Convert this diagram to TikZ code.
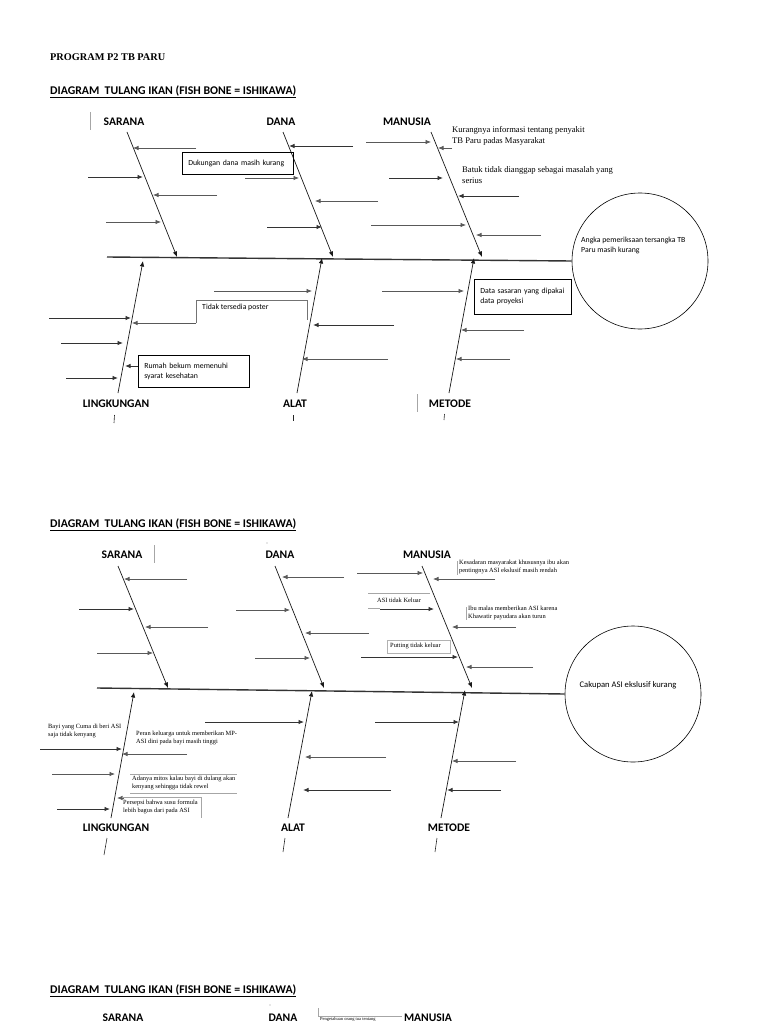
\documentclass[tikz,border=0pt]{standalone}
\usepackage{fontspec}
\setmainfont{Liberation Serif}
\newfontfamily\carl{Carlito}
\usetikzlibrary{arrows.meta}
\newcommand\fbar[5][arr]{\coordinate (#2a) at (#3,#4); \coordinate (#2b) at (#5,#4); \draw[#1] (#2a) -- (#2b);}
\tikzset{
 bone/.style={line width=0.7pt, black!90, -{Latex[length=5.5pt,width=4.5pt]}},
 plain/.style={line width=0.6pt, black!85},
 spine/.style={line width=1.4pt, black!80},
 arr/.style={line width=0.7pt, black!65, -{Latex[length=5.5pt,width=4.5pt]}},
 arrk/.style={line width=0.9pt, black!80, -{Latex[length=5.5pt,width=4.5pt]}},
 cat/.style={font=\carl\bfseries\fontsize{11.6}{12}\selectfont, inner sep=0pt},
 ttl/.style={font=\carl\bfseries\fontsize{11.8}{12}\selectfont, inner sep=0pt, anchor=west},
 box/.style={draw, line width=0.6pt, inner xsep=6pt, align=left, anchor=north west, font=\carl\fontsize{7.8}{10}\selectfont},
 btxt/.style={font=\carl\fontsize{7.8}{10}\selectfont, align=left, inner sep=0pt, anchor=north west},
 stxt/.style={font=\fontsize{8.6}{11}\selectfont, align=left, inner sep=0pt, anchor=north west},
 ttxt/.style={font=\fontsize{6.4}{7.5}\selectfont, align=left, inner sep=0pt, anchor=north west},
 grey/.style={line width=0.5pt, black!35},
 effect/.style={draw, circle, line width=0.6pt, inner sep=0pt, minimum size=136pt},
}
\begin{document}
\begin{tikzpicture}[x=1pt,y=-1pt]
\useasboundingbox (0,0) rectangle (768,1024);
\clip (0,0) rectangle (768,1024);
% ================= Diagram 1 =================
\node[anchor=west, font=\bfseries\fontsize{10.3}{12}\selectfont, inner sep=0pt] (prog) at (50,57) {PROGRAM P2 TB PARU};
\node[ttl] (t1) at (50,92) {\underline{DIAGRAM\ \ TULANG IKAN (FISH BONE = ISHIKAWA)}};
\node[cat] (sar1) at (124,122) {SARANA};
\node[cat] (dan1) at (281,122) {DANA};
\node[cat] (man1) at (407,122) {MANUSIA};
\node[cat] (lin1) at (116,404) {LINGKUNGAN};
\node[cat] (ala1) at (295,404) {ALAT};
\node[cat] (met1) at (450,404) {METODE};
\coordinate (g1a) at (90,112); \coordinate (g1b) at (90,130); \draw[grey] (g1a) -- (g1b);
\coordinate (g2a) at (417,394); \coordinate (g2b) at (417,412); \draw[grey] (g2a) -- (g2b);
\coordinate (k1a) at (114.5,415); \coordinate (k1b) at (114,423); \draw[plain] (k1a) -- (k1b);
\coordinate (k2a) at (293,415); \coordinate (k2b) at (293,421); \draw[plain] (k2a) -- (k2b);
\coordinate (k3a) at (444.5,414); \coordinate (k3b) at (444,420); \draw[plain] (k3a) -- (k3b);
\node[effect] (eff1) at (640,261) {};
\node[btxt] (eff1t) at (581,237) {Angka pemeriksaan tersangka TB\\Paru masih kurang};
\coordinate (sp1) at (107,257);
\draw[spine] (sp1) -- (eff1.west);
% bones
\coordinate (bs1) at (127,132); \coordinate (bs2) at (177,257); \draw[bone] (bs1) -- (bs2);
\coordinate (bd1) at (283,132); \coordinate (bd2) at (333,257); \draw[bone] (bd1) -- (bd2);
\coordinate (bm1) at (431,132); \coordinate (bm2) at (482,257); \draw[bone] (bm1) -- (bm2);
\coordinate (bl1) at (118,393); \coordinate (bl2) at (143,261); \draw[bone] (bl1) -- (bl2);
\coordinate (ba1) at (297,393); \coordinate (ba2) at (322,258); \draw[bone] (ba1) -- (ba2);
\coordinate (bt1) at (449,393); \coordinate (bt2) at (474,258); \draw[bone] (bt1) -- (bt2);
% sarana
\fbar{a1}{196}{148}{133}
\fbar[arrk]{a2}{88}{177}{143}
\fbar{a3}{217}{195}{153}
\fbar{a4}{106}{222}{161}
% dana
\fbar[arrk]{a5}{353}{146}{289}
\fbar{a6}{245}{178}{299}
\fbar{a7}{378}{201}{315}
\fbar[arrk]{a8}{267}{227}{322}
\node[box, minimum width=111pt, minimum height=22pt, text width=99pt] (dk) at (182,152) {Dukungan dana masih kurang};
% manusia
\fbar{a9}{366}{142}{431}
\fbar{a10}{452}{148}{438}
\fbar[arrk]{a11}{389}{178}{443}
\fbar[arrk]{a12}{519}{196}{458}
\fbar{a13}{371}{225}{466}
\fbar{a14}{541}{235}{476}
\node[stxt] (kur) at (452,126) {Kurangnya informasi tentang penyakit\\TB Paru padas Masyarakat};
\node[stxt] (bat) at (462,166) {Batuk tidak dianggap sebagai masalah yang\\serius};
% lingkungan
\fbar[arrk]{b1}{49}{318}{131}
\fbar{b2}{196}{323}{132}
\coordinate (tp1) at (196,300); \coordinate (tp2) at (307,300); \coordinate (tp3) at (307,320);
\draw[line width=0.5pt, black!55] (b2a) -- (tp1) -- (tp2) -- (tp3);
\node[btxt, anchor=west] (tdk) at (202,307) {Tidak tersedia poster};
\fbar[arrk]{b3}{61}{343}{123}
\node[box, minimum width=111pt, minimum height=32pt, text width=99pt] (rum) at (138,355) {Rumah bekum memenuhi\\syarat kesehatan};
\fbar[arrk]{b4}{138}{366}{125}
\fbar[arrk]{b5}{66}{378}{118}
% alat
\fbar{b6}{214}{291}{312}
\fbar[arrk]{b7}{394}{325}{313}
\fbar{b8}{388}{359}{302}
% metode
\fbar{b9}{382}{291}{464}
\node[box, minimum width=97pt, minimum height=35pt, text width=85pt, inner ysep=4pt] (dat) at (474,279) {Data sasaran yang dipakai\\data proyeksi};
\fbar{b10}{524}{330}{461}
\fbar{b11}{510}{359}{456}
% ================= Diagram 2 =================
\node[ttl] (t2) at (50,525) {\underline{DIAGRAM\ \ TULANG IKAN (FISH BONE = ISHIKAWA)}};
\node[cat] (sar2) at (122,555) {SARANA};
\node[cat] (dan2) at (280,555) {DANA};
\node[cat] (man2) at (427,555) {MANUSIA};
\node[cat] (lin2) at (116,828) {LINGKUNGAN};
\node[cat] (ala2) at (293,828) {ALAT};
\node[cat] (met2) at (449,828) {METODE};
\coordinate (g3a) at (154,545); \coordinate (g3b) at (154,563); \draw[grey] (g3a) -- (g3b);
\fill[black!40] (267,543) circle (0.6pt);
\coordinate (k4a) at (107,838); \coordinate (k4b) at (104,855); \draw[plain] (k4a) -- (k4b);
\coordinate (k5a) at (285,838); \coordinate (k5b) at (283,852); \draw[plain] (k5a) -- (k5b);
\coordinate (k6a) at (437,838); \coordinate (k6b) at (435,852); \draw[plain] (k6a) -- (k6b);
\node[effect] (eff2) at (633,694) {};
\node[font=\carl\fontsize{8.6}{10}\selectfont, inner sep=0pt] (eff2t) at (628,685) {Cakupan ASI ekslusif kurang};
\coordinate (sp2) at (97,688);
\draw[spine] (sp2) -- (eff2.west);
% bones
\coordinate (cs1) at (118,566); \coordinate (cs2) at (168,688); \draw[bone] (cs1) -- (cs2);
\coordinate (cd1) at (275,566); \coordinate (cd2) at (324,688); \draw[bone] (cd1) -- (cd2);
\coordinate (cm1) at (422,566); \coordinate (cm2) at (472,688); \draw[bone] (cm1) -- (cm2);
\coordinate (cl1) at (111,818); \coordinate (cl2) at (134,692); \draw[bone] (cl1) -- (cl2);
\coordinate (ca1) at (288,818); \coordinate (ca2) at (312,691); \draw[bone] (ca1) -- (ca2);
\coordinate (ct1) at (441,818); \coordinate (ct2) at (465,690); \draw[bone] (ct1) -- (ct2);
% sarana
\fbar{c1}{187}{579}{124}
\fbar[arrk]{c2}{79}{609}{134}
\fbar{c3}{208}{627}{145}
\fbar{c4}{97}{653}{153}
% dana
\fbar{c5}{344}{577}{282}
\fbar{c6}{236}{610}{290}
\fbar{c7}{369}{633}{305}
\fbar{c8}{255}{658}{310}
% manusia
\fbar{c9}{357}{573}{423}
\fbar{c10}{495}{579}{433}
\node[ttxt] (kes) at (459,560) {Kesadaran masyarakat khususnya ibu akan\\pentingnya ASI ekslusif masih rendah};
\coordinate (v1a) at (457,561); \coordinate (v1b) at (457,575); \draw[grey] (v1a) -- (v1b);
\coordinate (h1a) at (368,593); \coordinate (h1b) at (430,593); \draw[grey] (h1a) -- (h1b);
\node[ttxt, anchor=west] (asi) at (377,600) {ASI tidak Keluar};
\coordinate (h2a) at (368,608); \coordinate (h2b) at (380,608); \draw[grey] (h2a) -- (h2b);
\fbar[arrk]{c11}{380}{609}{434}
\node[ttxt] (ibu) at (468,606) {Ibu malas memberikan ASI karena\\Khawatir payudara akan turun};
\coordinate (v2a) at (466,607); \coordinate (v2b) at (466,620); \draw[grey] (v2a) -- (v2b);
\fbar{c12}{516}{627}{452}
\node[draw=black!30, line width=0.5pt, minimum width=63pt, minimum height=13pt, anchor=north west, inner sep=0pt] (put) at (387,640) {};
\node[ttxt, anchor=west] (putt) at (390,646) {Putting tidak keluar};
\fbar[arrk]{c13}{361}{657}{458}
\fbar{c14}{533}{667}{466}
% lingkungan
\node[ttxt] (bay) at (48,724) {Bayi yang Cuma di beri ASI\\saja tidak kenyang};
\fbar[arrk]{d1}{40}{749}{122}
\node[ttxt] (per) at (136,731) {Peran keluarga untuk memberikan MP-\\ASI dini pada bayi masih tinggi};
\fbar{d2}{187}{754}{122}
\fbar{d3}{52}{774}{115}
\coordinate (h3a) at (130,774); \coordinate (h3b) at (237,774); \draw[grey] (h3a) -- (h3b);
\coordinate (h4a) at (130,793); \coordinate (h4b) at (237,793); \draw[grey] (h4a) -- (h4b);
\node[ttxt] (ada) at (132,776) {Adanya mitos kalau bayi di dulang akan\\kenyang sehingga tidak rewel};
\fbar{d4}{124}{798}{117}
\coordinate (h5a) at (122,797); \coordinate (h5b) at (201,797); \coordinate (h5c) at (201,818);
\draw[grey] (h5a) -- (h5b) -- (h5c);
\node[ttxt] (pers) at (123,800) {Persepsi bahwa susu formula\\lebih bagus dari pada ASI};
\fbar[arrk]{d5}{57}{809}{110}
% alat
\fbar[arrk]{d6}{205}{722}{304}
\fbar{d7}{386}{757}{305}
\fbar[arrk]{d8}{391}{790}{303}
% metode
\fbar[arrk]{d9}{375}{722}{459}
\fbar{d10}{516}{761}{452}
\fbar[arrk]{d11}{501}{790}{447}
% ================= Diagram 3 (cut off) =================
\node[ttl] (t3) at (50,991) {\underline{DIAGRAM\ \ TULANG IKAN (FISH BONE = ISHIKAWA)}};
\fill[black!40] (270,1005) circle (0.6pt);
\coordinate (v3a) at (318,1008); \coordinate (v3b) at (318,1016); \coordinate (v3c) at (402,1016);
\draw[grey] (v3a) -- (v3b) -- (v3c);
\node[ttxt, font=\fontsize{4.5}{5}\selectfont] (pen) at (320,1017) {Pengetahuan orang tua tentang};
\node[cat] (sar3) at (123,1018) {SARANA};
\node[cat] (dan3) at (283,1018) {DANA};
\node[cat] (man3) at (428,1018) {MANUSIA};
\end{tikzpicture}
\end{document}
